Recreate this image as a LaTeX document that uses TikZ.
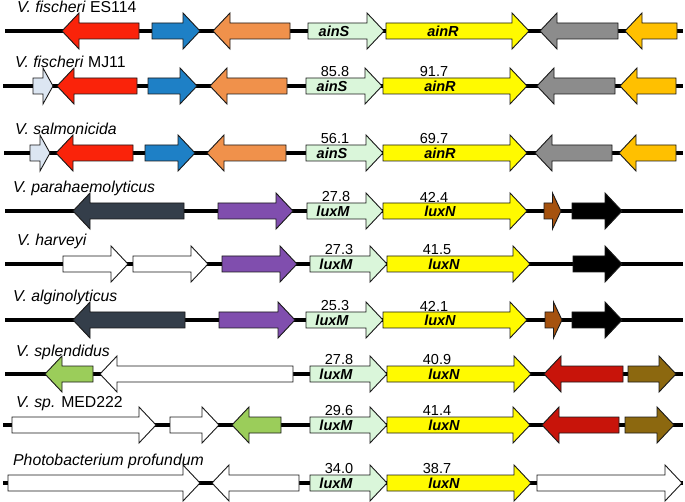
\documentclass[tikz,border=0pt]{standalone}
\usepackage{fontspec}
\setmainfont{Liberation Sans}
\definecolor{cred}{RGB}{250,35,10}
\definecolor{cblue}{RGB}{30,128,198}
\definecolor{corange}{RGB}{240,145,75}
\definecolor{cpale}{RGB}{220,230,242}
\definecolor{cmint}{RGB}{218,246,218}
\definecolor{cyell}{RGB}{255,250,0}
\definecolor{cgray}{RGB}{140,140,140}
\definecolor{cgold}{RGB}{255,192,0}
\definecolor{cslate}{RGB}{52,62,74}
\definecolor{cpurple}{RGB}{128,78,174}
\definecolor{cbrown}{RGB}{165,82,15}
\definecolor{cgreen}{RGB}{155,205,90}
\definecolor{cdred}{RGB}{200,20,10}
\definecolor{colive}{RGB}{140,104,15}
\tikzset{
	backbone/.style={line width=3.5pt,black},
	genebox/.style={draw=black!90,line width=0.9pt,line join=miter},
	orglabel/.style={anchor=base west,inner sep=0pt,font=\fontsize{15.8}{18}\selectfont},
	genelabel/.style={inner sep=0pt,font=\fontsize{14.5}{16}\selectfont\bfseries\itshape},
	pctlabel/.style={inner sep=0pt,font=\fontsize{14.5}{16}\selectfont}
}
% #1 back end, #2 tip, #3 row, #4 fill
\newcommand{\gene}[4]{%
	\pgfmathsetmacro{\hd}{min(17,abs(#2-#1)/2)*sign(#2-#1)}
	\filldraw[genebox,fill=#4] ({#1},{#3-8}) -- ({#2-\hd},{#3-8}) -- ({#2-\hd},{#3-18})
		-- ({#2},{#3}) -- ({#2-\hd},{#3+18}) -- ({#2-\hd},{#3+8}) -- ({#1},{#3+8}) -- cycle;
}
\begin{document}
\begin{tikzpicture}[x=1pt,y=-1pt]
	\useasboundingbox (0,0) rectangle (685,502);
	% backbones
	\draw [backbone] (5,31) -- (683,31);
	\draw [backbone] (3,86) -- (683,86);
	\draw [backbone] (4,153) -- (683,153);
	\draw [backbone] (5,211) -- (683,211);
	\draw [backbone] (5,264) -- (683,264);
	\draw [backbone] (5,320) -- (683,320);
	\draw [backbone] (5,374) -- (683,374);
	\draw [backbone] (3,425) -- (683,425);
	\draw [backbone] (3,483) -- (683,483);
	% V. fischeri ES114
	\gene{139}{62}{31}{cred}
	\gene{152}{200}{31}{cblue}
	\gene{290}{213}{31}{corange}
	\gene{308}{384}{31}{cmint}
	\gene{386}{529}{31}{cyell}
	\gene{618}{540}{31}{cgray}
	\gene{677}{625}{31}{cgold}
	% V. fischeri MJ11
	\gene{33}{53}{86}{cpale}
	\gene{137}{57}{86}{cred}
	\gene{148}{197}{86}{cblue}
	\gene{287}{210}{86}{corange}
	\gene{306}{382}{86}{cmint}
	\gene{383}{527}{86}{cyell}
	\gene{615}{537}{86}{cgray}
	\gene{676}{620}{86}{cgold}
	% V. salmonicida
	\gene{30}{50}{153}{cpale}
	\gene{133}{56}{153}{cred}
	\gene{145}{195}{153}{cblue}
	\gene{286}{207}{153}{corange}
	\gene{306}{383}{153}{cmint}
	\gene{383}{527}{153}{cyell}
	\gene{612}{535}{153}{cgray}
	\gene{676}{619}{153}{cgold}
	% V. parahaemolyticus
	\gene{184}{73}{211}{cslate}
	\gene{218}{293}{211}{cpurple}
	\gene{307}{383}{211}{cmint}
	\gene{383}{527}{211}{cyell}
	\gene{544}{561}{211}{cbrown}
	\gene{572}{622}{211}{black}
	% V. harveyi
	\gene{63}{128}{264}{white}
	\gene{133}{208}{264}{white}
	\gene{222}{297}{264}{cpurple}
	\gene{310}{387}{264}{cmint}
	\gene{387}{530}{264}{cyell}
	\gene{573}{622}{264}{black}
	% V. alginolyticus
	\gene{185}{73}{320}{cslate}
	\gene{219}{295}{320}{cpurple}
	\gene{306}{383}{320}{cmint}
	\gene{383}{527}{320}{cyell}
	\gene{545}{562}{320}{cbrown}
	\gene{572}{622}{320}{black}
	% V. splendidus
	\gene{93}{45}{374}{cgreen}
	\gene{293}{100}{374}{white}
	\gene{310}{387}{374}{cmint}
	\gene{387}{531}{374}{cyell}
	\gene{623}{544}{374}{cdred}
	\gene{628}{676}{374}{colive}
	% V. sp. MED222
	\gene{12}{156}{425}{white}
	\gene{170}{219}{425}{white}
	\gene{281}{232}{425}{cgreen}
	\gene{310}{387}{425}{cmint}
	\gene{387}{530}{425}{cyell}
	\gene{619}{542}{425}{cdred}
	\gene{625}{674}{425}{colive}
	% Photobacterium profundum
	\gene{8}{200}{483}{white}
	\gene{299}{212}{483}{white}
	\gene{310}{387}{483}{cmint}
	\gene{387}{531}{483}{cyell}
	\gene{537}{682}{483}{white}
	% organism names
	\path node (org1) at (17,13) [orglabel] {\textit{V. fischeri} ES114}
		  node (org2) at (15,68) [orglabel] {\textit{V. fischeri} MJ11}
		  node (org3) at (15,135) [orglabel] {\textit{V. salmonicida}}
		  node (org4) at (13,193) [orglabel] {\textit{V. parahaemolyticus}}
		  node (org5) at (17,246) [orglabel] {\textit{V. harveyi}}
		  node (org6) at (13,302) [orglabel] {\textit{V. alginolyticus}}
		  node (org7) at (16,356) [orglabel] {\textit{V. splendidus}}
		  node (org8) at (16,407) [orglabel] {\textit{V. sp.} MED222}
		  node (org9) at (13,465) [orglabel] {\textit{Photobacterium profundum}};
	% gene names
	\path node (s1) at (334,31) [genelabel] {ainS}
		  node (r1) at (443,31) [genelabel] {ainR}
		  node (s2) at (332,86) [genelabel] {ainS}
		  node (r2) at (440,86) [genelabel] {ainR}
		  node (s3) at (332,153) [genelabel] {ainS}
		  node (r3) at (440,153) [genelabel] {ainR}
		  node (m4) at (333,211) [genelabel] {luxM}
		  node (n4) at (440,211) [genelabel] {luxN}
		  node (m5) at (336,264) [genelabel] {luxM}
		  node (n5) at (444,264) [genelabel] {luxN}
		  node (m6) at (332,320) [genelabel] {luxM}
		  node (n6) at (440,320) [genelabel] {luxN}
		  node (m7) at (336,374) [genelabel] {luxM}
		  node (n7) at (444,374) [genelabel] {luxN}
		  node (m8) at (336,425) [genelabel] {luxM}
		  node (n8) at (444,425) [genelabel] {luxN}
		  node (m9) at (336,483) [genelabel] {luxM}
		  node (n9) at (444,483) [genelabel] {luxN};
	% identities
	\path node (p2a) at (335,72) [pctlabel] {85.8}
		  node (p2b) at (434,72) [pctlabel] {91.7}
		  node (p3a) at (335,139) [pctlabel] {56.1}
		  node (p3b) at (434,139) [pctlabel] {69.7}
		  node (p4a) at (336,197) [pctlabel] {27.8}
		  node (p4b) at (434,197) [pctlabel] {42.4}
		  node (p5a) at (339,250) [pctlabel] {27.3}
		  node (p5b) at (437,250) [pctlabel] {41.5}
		  node (p6a) at (335,306) [pctlabel] {25.3}
		  node (p6b) at (434,306) [pctlabel] {42.1}
		  node (p7a) at (339,360) [pctlabel] {27.8}
		  node (p7b) at (437,360) [pctlabel] {40.9}
		  node (p8a) at (339,411) [pctlabel] {29.6}
		  node (p8b) at (437,411) [pctlabel] {41.4}
		  node (p9a) at (339,469) [pctlabel] {34.0}
		  node (p9b) at (437,469) [pctlabel] {38.7};
\end{tikzpicture}
\end{document}
